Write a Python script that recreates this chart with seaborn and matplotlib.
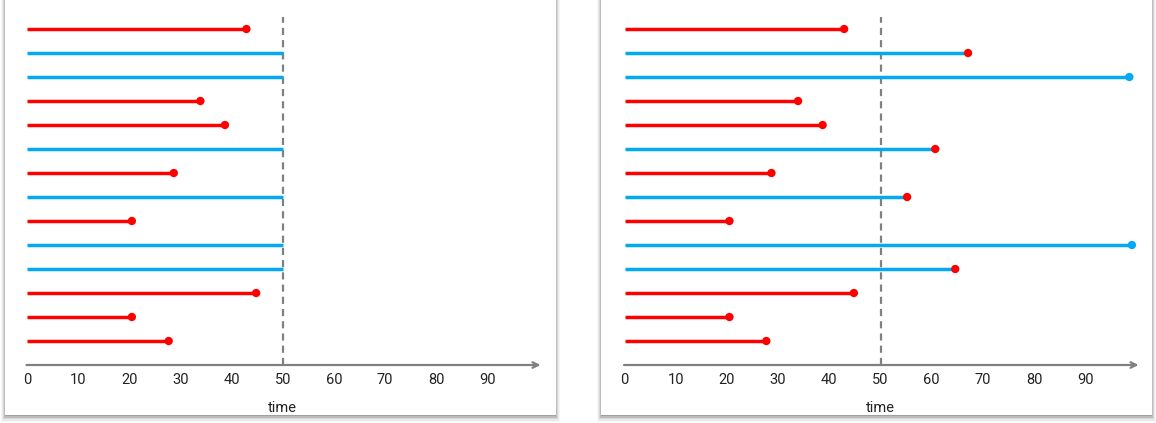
import numpy as np
import pandas as pd
import matplotlib
matplotlib.use("Agg")
import matplotlib.pyplot as plt
import seaborn as sns
from matplotlib.patches import Rectangle

# ---- data ----
durations = [42.9, 67.1, 98.6, 33.9, 38.7, 60.7, 28.7, 55.2, 20.5, 99.1, 64.6, 44.8, 20.5, 27.7]
observed = [1, 1, 0, 1, 1, 1, 1, 1, 1, 0, 1, 1, 1, 1]
current_time = 50
xticks = [0, 10, 20, 30, 40, 50, 60, 70, 80, 90]
xlabel = "time"

RED = "#FF0000"
BLUE = "#03A9F4"
GRAY = "#808080"

sns.set_style("white")
plt.rcParams["font.family"] = ["Roboto", "DejaVu Sans"]

W, H = 1156, 423
fig = plt.figure(figsize=(W / 100, H / 100), dpi=100)
fig.patch.set_facecolor("white")


def px(x0, y0, x1, y1):
    """pixel box (y from top) -> figure rect"""
    return (x0 / W, 1 - y1 / H, (x1 - x0) / W, (y1 - y0) / H)


def card(x0, x1, y0, y1):
    for grow, dy, a in [(4, 3, 0.03), (3, 3, 0.05), (2, 2, 0.08), (1, 2, 0.12), (0, 1, 0.15)]:
        l, b, w, h = px(x0 - grow, y0 - grow + dy, x1 + grow, y1 + grow + dy)
        fig.add_artist(Rectangle((l, b), w, h, transform=fig.transFigure,
                                 facecolor="black", edgecolor="none", alpha=a, zorder=0))
    l, b, w, h = px(x0, y0, x1, y1)
    fig.add_artist(Rectangle((l, b), w, h, transform=fig.transFigure,
                             facecolor="white", edgecolor="none", zorder=0.5))


card(5, 556, -10, 415)
card(601, 1152, -10, 415)

df = pd.DataFrame({"duration": durations, "observed": observed})
df["row"] = np.arange(len(df))
df["before"] = df["duration"] < current_time


def draw(ax, full):
    d = df.copy()
    if full:
        d["end"] = d["duration"]
        d["dot"] = np.where(d["observed"] == 1, "event", "censored")
        dots = d
    else:
        d["end"] = np.minimum(d["duration"], current_time)
        d["dot"] = "event"
        dots = d[d["before"]]
    line_colors = [RED if b else BLUE for b in d["before"]]
    ax.hlines(d["row"], 0, d["end"], colors=line_colors, lw=2.5, zorder=2)
    sns.scatterplot(data=dots, x="end", y="row", hue="dot",
                    palette={"event": RED, "censored": BLUE},
                    s=36, edgecolor="none", linewidth=0, legend=False,
                    ax=ax, zorder=3, clip_on=False)
    ax.axvline(current_time, color=GRAY, lw=1.6, dashes=(3.2, 2.3), zorder=1)
    ax.set_xlim(0, 100)
    ax.set_ylim(len(df), -0.5)
    ax.set_yticks([])
    ax.set_ylabel("")
    ax.set_xticks(xticks)
    ax.set_xticklabels([str(t) for t in xticks])
    ax.tick_params(axis="x", length=7, width=1, direction="inout", color=GRAY,
                   labelsize=10.5, labelcolor="#222222", pad=2)
    for s in ax.spines.values():
        s.set_visible(False)
    ax.annotate("", xy=(100.4, len(df)), xytext=(-0.1, len(df)),
                xycoords="data", textcoords="data",
                arrowprops=dict(arrowstyle="->", color=GRAY, lw=1.6,
                                mutation_scale=10, shrinkA=0, shrinkB=0),
                annotation_clip=False, zorder=4)
    ax.set_xlabel(xlabel, fontsize=10.5, color="#222222", labelpad=10)
    ax.patch.set_alpha(0)


ax1 = fig.add_axes(px(27, 17, 538.5, 365))
ax2 = fig.add_axes(px(624.5, 17, 1136.5, 365))
for a in (ax1, ax2):
    a.set_zorder(2)
draw(ax1, full=False)
draw(ax2, full=True)

fig.savefig("out.png", dpi=100, facecolor="white")
